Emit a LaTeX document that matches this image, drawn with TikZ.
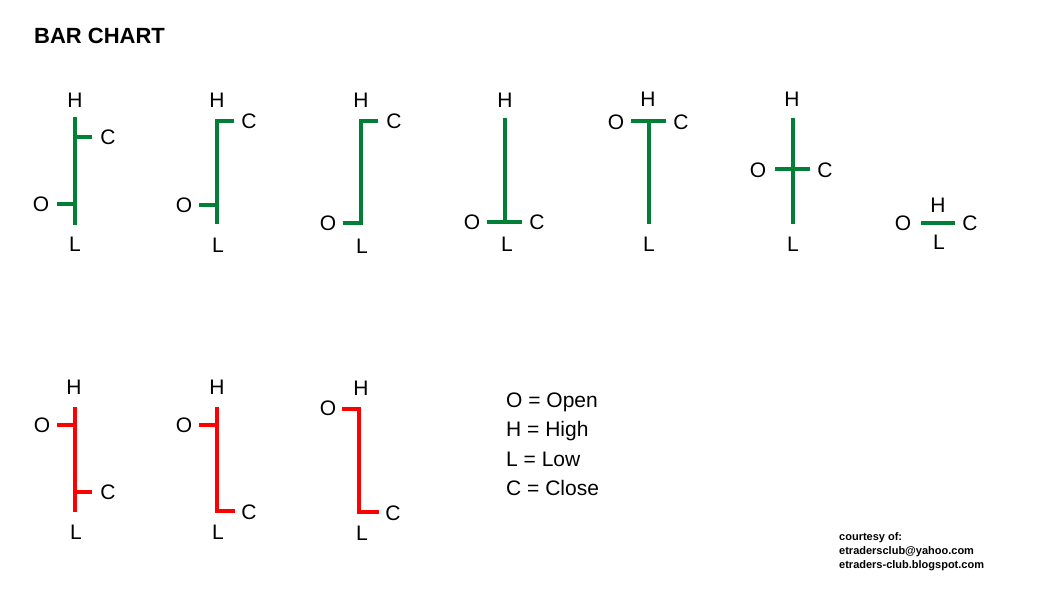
\documentclass[tikz,border=0pt]{standalone}
\usepackage{fontspec}
\setmainfont{Liberation Sans}
\begin{document}
\begin{tikzpicture}[x=1pt,y=-1pt,
  lb/.style={font=\fontsize{21}{24}\selectfont,inner sep=0pt},
  gb/.style={draw={rgb,255:red,0;green,128;blue,55},line width=4pt},
  rb/.style={draw=red,line width=4pt}]
\useasboundingbox[fill=white] (0,0) rectangle (1050,615);
\node[anchor=west,font=\bfseries\fontsize{22}{24}\selectfont,inner sep=0pt] (t) at (34,36) {BAR CHART};
% green 1
\coordinate (a1) at (75,117); \coordinate (a2) at (75,225);
\draw[gb] (a1)--(a2); \draw[gb] (75,137) -- (92,137); \draw[gb] (57,204)--(75,204);
\node[lb] at (75,100){H}; \node[lb] at (75,244){L}; \node[lb] at (108,137){C}; \node[lb] at (41,204){O};
% green 2
\draw[gb] (217,224)--(217,121)--(234,121); \draw[gb] (199,205)--(217,205);
\node[lb] at (217,100){H}; \node[lb] at (218,245){L}; \node[lb] at (249,121){C}; \node[lb] at (184,205){O};
% green 3
\draw[gb] (378,121)--(361,121)--(361,223)--(343,223);
\node[lb] at (361,100){H}; \node[lb] at (362,246){L}; \node[lb] at (394,121){C}; \node[lb] at (328,223){O};
% green 4
\draw[gb] (505,118)--(505,222); \draw[gb] (487,222)--(522,222);
\node[lb] at (505,100){H}; \node[lb] at (507,244){L}; \node[lb] at (537,222){C}; \node[lb] at (472,222){O};
% green 5
\draw[gb] (649,121)--(649,224); \draw[gb] (631,121)--(666,121);
\node[lb] at (648,99){H}; \node[lb] at (649,244){L}; \node[lb] at (681,122){C}; \node[lb] at (616,122){O};
% green 6
\draw[gb] (793,118)--(793,224); \draw[gb] (775,169)--(810,169);
\node[lb] at (792,99){H}; \node[lb] at (793,244){L}; \node[lb] at (825,170){C}; \node[lb] at (758,170){O};
% green 7
\draw[gb] (921,223)--(955,223);
\node[lb] at (938,205){H}; \node[lb] at (939,242){L}; \node[lb] at (970,223){C}; \node[lb] at (903,223){O};
% red 1
\draw[rb] (75,407)--(75,512); \draw[rb] (57,425)--(75,425); \draw[rb] (75,492)--(92,492);
\node[lb] at (74,387){H}; \node[lb] at (76,532){L}; \node[lb] at (108,492){C}; \node[lb] at (42,425){O};
% red 2
\draw[rb] (217,407)--(217,511)--(235,511); \draw[rb] (199,425)--(217,425);
\node[lb] at (217,387){H}; \node[lb] at (218,532){L}; \node[lb] at (249,512){C}; \node[lb] at (184,425){O};
% red 3
\draw[rb] (342,409)--(359,409)--(359,512)--(379,512);
\node[lb] at (361,388){H}; \node[lb] at (362,533){L}; \node[lb] at (393,513){C}; \node[lb] at (328,408){O};
% legend
\node[anchor=west,lb] at (506,402){O = Open};
\node[anchor=west,lb] at (506,431){H = High};
\node[anchor=west,lb] at (506,459){L = Low};
\node[anchor=west,lb] at (506,488){C = Close};
% courtesy
\node[anchor=north west,align=left,font=\bfseries\fontsize{11}{14}\selectfont,inner sep=0pt] at (839,532){courtesy of:\\etradersclub@yahoo.com\\etraders-club.blogspot.com};
\end{tikzpicture}
\end{document}
